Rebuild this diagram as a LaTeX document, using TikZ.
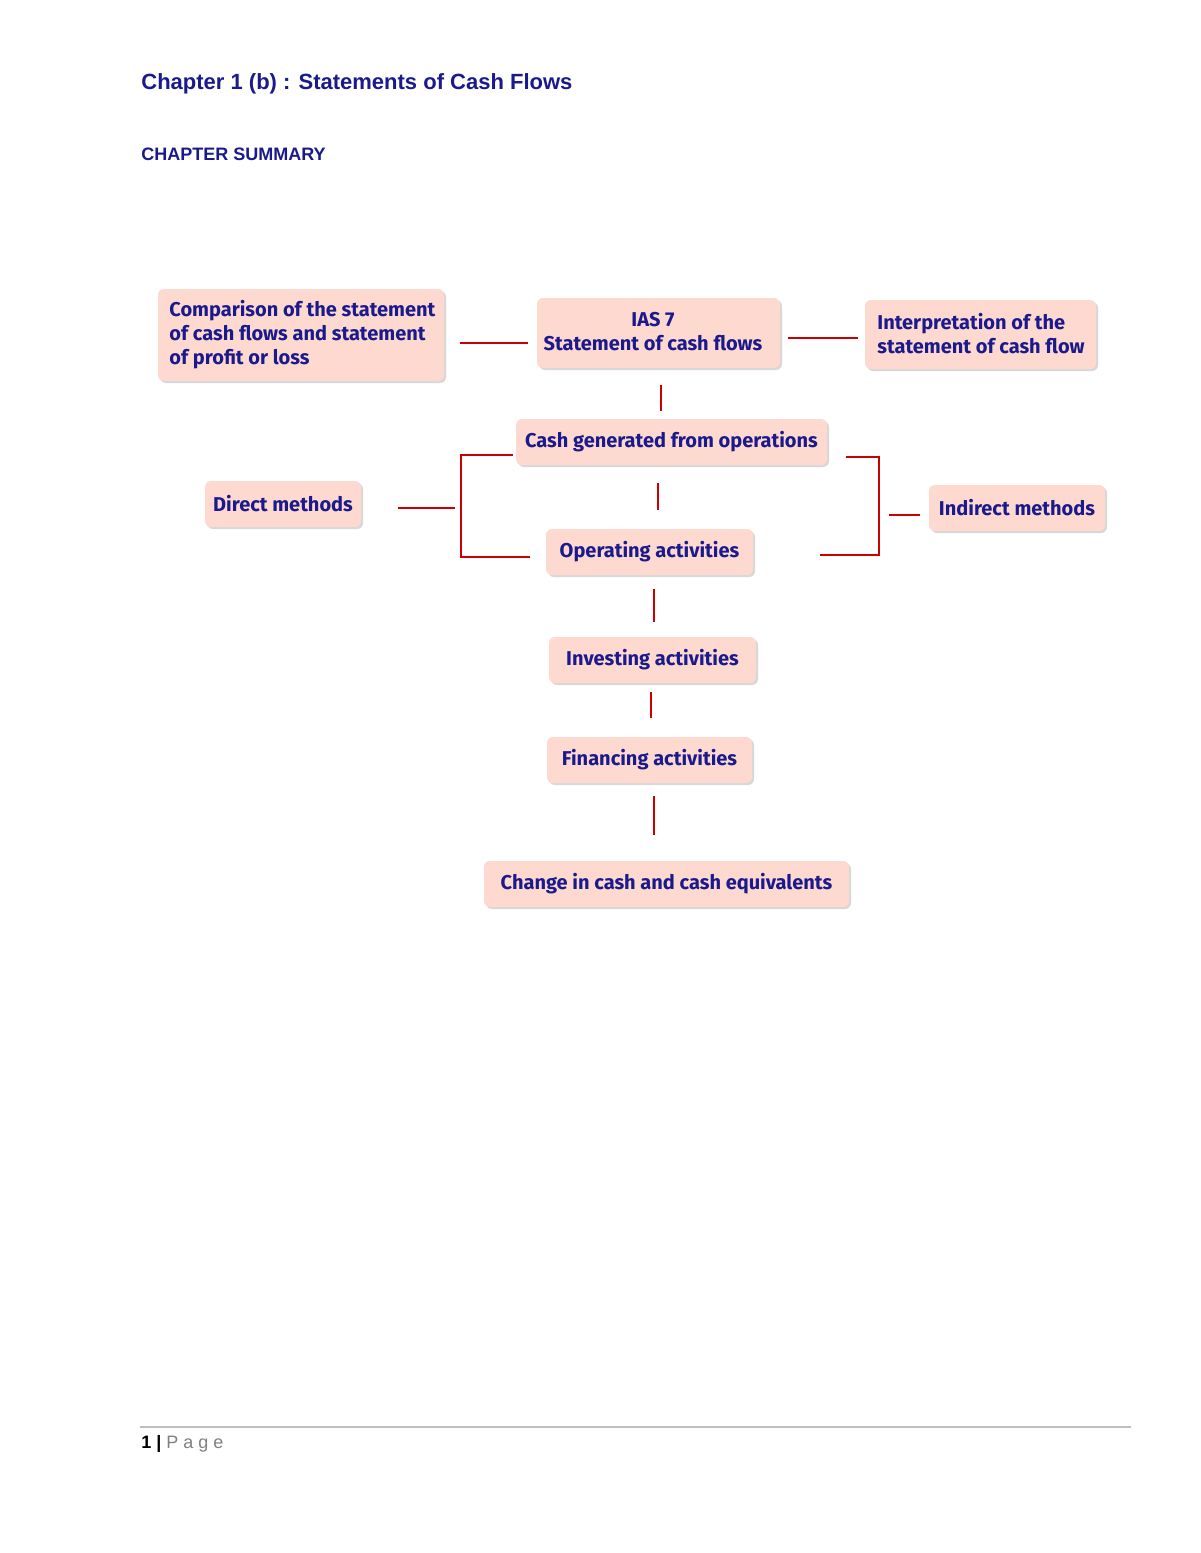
\documentclass[tikz,border=0pt]{standalone}
\usepackage{fontspec}
\setmainfont{Liberation Sans}
\newfontfamily\boxfont{Fira Sans}
\usetikzlibrary{shadows}
\definecolor{navy}{HTML}{1A1A8C}
\definecolor{boxfill}{HTML}{FDD9CF}
\definecolor{lred}{HTML}{CC0000}
\tikzset{
 bx/.style={fill=boxfill,rounded corners=3pt,drop shadow={shadow xshift=1pt,shadow yshift=-1pt,fill=black!25,opacity=.6}},
 bt/.style={text=navy,font=\boxfont\bfseries\fontsize{10}{12}\selectfont,align=left,inner sep=0pt},
 ln/.style={draw=lred,line width=1.2pt}
}
\begin{document}
\begin{tikzpicture}[x=0.5pt,y=-0.5pt]
\useasboundingbox (0,0) rectangle (1200,1553);
\fill[white] (0,0) rectangle (1200,1553);
\node[anchor=west,text=navy,font=\bfseries\fontsize{11}{13}\selectfont,inner sep=0] (title) at (141,84) {Chapter 1 (b) : Statements of Cash Flows};
\node[anchor=west,text=navy,font=\bfseries\fontsize{9}{11}\selectfont,inner sep=0] (sum) at (141,154) {CHAPTER SUMMARY};
% boxes
\newcommand{\mybox}[6]{\path[bx] (#2,#3) rectangle (#4,#5); \node[bt] (#1) at ({(#2+#4)/2},{(#3+#5)/2}) {#6};}
\path[bx] (158,289) rectangle (444,381);
\node[bt,anchor=west] (cmp) at (169,335) {Comparison of the statement\\of cash flows and statement\\of profit or loss};
\path[bx] (537,298) rectangle (780,368);
\node[bt,align=center] (ias) at (653,332) {IAS 7\\Statement of cash flows};
\path[bx] (865,300) rectangle (1096,369);
\node[bt,anchor=west] (int) at (877,334) {Interpretation of the\\statement of cash flow};
\mybox{cgo}{516}{419}{827}{465}{Cash generated from operations}
\mybox{dir}{205}{481}{361}{527}{Direct methods}
\mybox{ind}{929}{485}{1105}{531}{Indirect methods}
\mybox{op}{546}{529}{753}{575}{Operating activities}
\mybox{inv}{549}{637}{756}{683}{Investing activities}
\mybox{fin}{547}{737}{752}{783}{Financing activities}
\mybox{chg}{484}{861}{849}{907}{Change in cash and cash equivalents}
% connectors
\draw[ln] (460,343) coordinate (a1) -- (528,343) coordinate (a2);
\draw[ln] (788,338) coordinate (b1) -- (858,338) coordinate (b2);
\draw[ln] (661,385) coordinate (c1) -- (661,411) coordinate (c2);
\draw[ln] (658,483) coordinate (d1) -- (658,510) coordinate (d2);
\draw[ln] (513,455) coordinate (e1) -- (461,455) -- (461,557) -- (530,557) coordinate (e2);
\draw[ln] (398,508) coordinate (f1) -- (455,508) coordinate (f2);
\draw[ln] (846,457) coordinate (g1) -- (879,457) -- (879,555) -- (820,555) coordinate (g2);
\draw[ln] (889,515) coordinate (h1) -- (920,515) coordinate (h2);
\draw[ln] (654,589) coordinate (i1) -- (654,622) coordinate (i2);
\draw[ln] (651,692) coordinate (j1) -- (651,718) coordinate (j2);
\draw[ln] (654,796) coordinate (k1) -- (654,835) coordinate (k2);
% footer
\draw[black!25,line width=1pt] (140,1427) coordinate (fl) -- (1131,1427) coordinate (fr);
\node[anchor=west,inner sep=0,font=\fontsize{9}{11}\selectfont] (pg) at (141,1444) {\textbf{1} \textbf{|} \textcolor{black!50}{P a g e}};
\end{tikzpicture}
\end{document}
